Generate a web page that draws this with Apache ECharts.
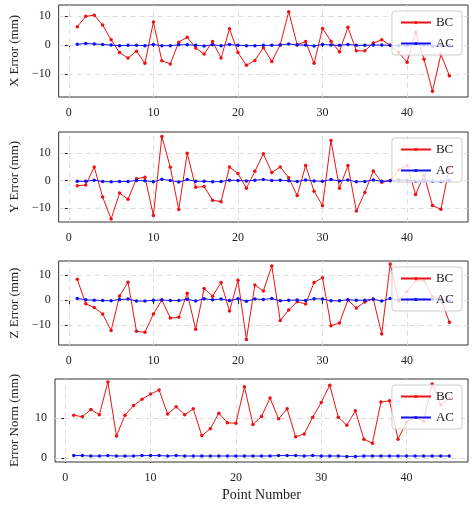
<!DOCTYPE html>
<html><head><meta charset="utf-8">
<script src="https://cdn.jsdelivr.net/npm/echarts@6/dist/echarts.min.js"></script>
<style>html,body{margin:0;padding:0;background:#fff}#main{width:474px;height:508px}</style>
</head><body><div id="main"></div>
<script>
var points = [];
for (var i = 1; i <= 45; i++) points.push(i);

var bcX = [6.3,9.9,10.3,6.9,1.8,-2.6,-4.5,-2.1,-6.3,7.9,-5.4,-6.5,1.0,2.7,-1.0,-3.1,1.2,-4.5,5.6,-2.6,-7.0,-5.3,-0.9,-5.7,0.1,11.5,0.1,1.2,-6.3,5.7,1.3,-2.3,6.1,-2.0,-2.0,0.7,1.8,-0.1,-2.6,-5.9,4.4,-4.9,-15.9,-3.2,-10.6];
var acX = [0.3,0.5,0.4,0.2,0.0,-0.2,-0.1,-0.1,-0.2,0.2,-0.2,-0.2,0.1,0.1,-0.1,-0.3,0.1,-0.2,0.2,-0.1,-0.2,-0.2,-0.1,-0.1,0.0,0.4,0.0,0.0,-0.3,0.2,0.0,-0.1,0.2,-0.1,-0.1,0.0,0.0,-0.1,-0.2,-0.2,0.2,-0.1,-0.4,-0.1,-0.3];
var bcY = [-1.8,-1.6,5.0,-5.9,-13.9,-4.5,-6.7,0.7,1.3,-12.6,16.1,4.9,-10.5,10.0,-2.4,-2.1,-7.1,-7.6,5.0,2.6,-2.7,3.4,9.8,3.0,5.0,1.1,-5.4,5.5,-3.8,-9.1,14.6,-2.7,5.5,-11.0,-4.3,3.5,-0.6,0.1,4.0,5.5,-5.0,2.1,-9.0,-10.4,4.8];
var acY = [-0.2,-0.2,0.2,-0.3,-0.4,-0.3,-0.3,0.1,0.0,-0.4,0.5,0.1,-0.5,0.4,-0.2,-0.2,-0.4,-0.3,0.2,0.1,-0.1,0.2,0.4,0.1,0.2,0.0,-0.3,0.3,-0.1,-0.2,0.4,-0.1,0.3,-0.4,-0.3,0.3,-0.2,0.0,0.3,0.2,-0.2,0.1,-0.2,-0.3,0.1];
var bcZ = [8.3,-1.5,-3.0,-5.6,-12.2,1.6,7.1,-12.5,-12.9,-5.6,0.0,-7.2,-6.9,2.7,-11.7,4.6,1.5,7.0,-4.4,7.9,-15.8,6.0,3.6,13.6,-8.2,-4.0,-0.7,-1.6,7.0,8.9,-10.3,-9.2,0.0,-3.2,-0.8,0.4,-13.6,14.4,-0.4,3.4,7.7,7.7,1.3,0.4,-8.9];
var acZ = [0.6,0.1,-0.1,-0.2,-0.3,0.2,0.4,-0.4,-0.4,-0.1,0.0,-0.2,-0.2,0.3,-0.4,0.5,0.1,0.4,-0.2,0.5,-0.5,0.4,0.2,0.6,-0.3,-0.1,0.0,-0.2,0.5,0.4,-0.3,-0.3,0.1,-0.1,-0.1,0.3,-0.4,0.6,0.0,0.3,0.4,0.4,0.2,0.1,-0.4];
var bcN = [10.7,10.3,12.1,10.8,19.0,5.5,10.7,13.1,14.7,16.0,17.0,11.0,12.8,10.8,12.3,5.6,7.3,11.2,8.8,8.7,17.8,8.4,10.4,15.0,9.8,12.3,5.3,6.0,10.2,13.9,18.2,10.2,8.2,11.8,4.7,3.7,14.0,14.3,4.7,9.0,10.2,9.2,18.5,13.3,14.8];
var acN = [0.6,0.6,0.5,0.5,0.6,0.5,0.5,0.5,0.6,0.6,0.6,0.5,0.6,0.5,0.5,0.5,0.5,0.5,0.5,0.5,0.5,0.5,0.5,0.5,0.6,0.6,0.6,0.5,0.6,0.5,0.5,0.5,0.4,0.4,0.5,0.5,0.5,0.5,0.5,0.5,0.5,0.5,0.5,0.5,0.5];

var xTicks = [0, 10, 20, 30, 40];
var panels = [
  {name: 'X Error (mm)', bc: bcX, ac: acX, min: -17.9, max: 13.8, ticks: [-10, 0, 10], top: 5, bottom: 97},
  {name: 'Y Error (mm)', bc: bcY, ac: acY, min: -15, max: 17.7, ticks: [-10, 0, 10], top: 132, bottom: 222},
  {name: 'Z Error (mm)', bc: bcZ, ac: acZ, min: -18, max: 15.6, ticks: [-10, 0, 10], top: 261, bottom: 345},
  {name: 'Error Norm (mm)', bc: bcN, ac: acN, min: -1, max: 19.75, ticks: [0, 10], top: 379, bottom: 462}
];

var font = 'Liberation Serif';
var grid = [], xAxis = [], yAxis = [], series = [], legend = [];

panels.forEach(function (p, k) {
  grid.push({left: 55, right: 6, top: p.top, height: p.bottom - p.top, show: true, borderColor: '#333', borderWidth: 1, backgroundColor: '#fff'});
  xAxis.push({
    type: 'value', gridIndex: k, min: -1.2, max: 47.2,
    name: k === 3 ? 'Point Number' : '', nameLocation: 'middle', nameGap: 26,
    nameTextStyle: {fontFamily: font, fontSize: 14, color: '#222'},
    axisLine: {show: false},
    axisTick: {show: true, length: 5, customValues: xTicks, lineStyle: {color: '#222'}},
    axisLabel: {show: true, customValues: xTicks, fontFamily: font, fontSize: 12, color: '#222', margin: 10},
    splitLine: {show: false}
  });
  yAxis.push({
    type: 'value', gridIndex: k, min: p.min, max: p.max,
    name: p.name, nameLocation: 'middle', nameGap: 34, nameRotate: 90,
    nameTextStyle: {fontFamily: font, fontSize: 13, color: '#222'},
    axisLine: {show: false},
    axisTick: {show: true, length: 4, customValues: p.ticks, lineStyle: {color: '#222'}},
    axisLabel: {customValues: p.ticks, fontFamily: font, fontSize: 12, color: '#222',
      formatter: function (v) { return v < 0 ? '\u2212' + (-v) : '' + v; }},
    splitLine: {show: false}
  });
  var mk = function (vals) { return vals.map(function (v, i) { return [points[i], v]; }); };
  var gridLines = xTicks.map(function (t) { return {xAxis: t}; })
    .concat(p.ticks.map(function (t) { return {yAxis: t}; }));
  series.push({name: 'BC', type: 'line', xAxisIndex: k, yAxisIndex: k, data: mk(p.bc),
    symbol: 'circle', symbolSize: 3.5, itemStyle: {color: '#ee1111'}, lineStyle: {color: '#ee1111', width: 1}, z: 3,
    markLine: {silent: true, symbol: 'none', label: {show: false}, z: 1,
      lineStyle: {color: '#ddd', type: [5, 4], width: 1}, data: gridLines}});
  series.push({name: 'AC', type: 'line', xAxisIndex: k, yAxisIndex: k, data: mk(p.ac),
    symbol: 'circle', symbolSize: 3.5, itemStyle: {color: '#1111ee'}, lineStyle: {color: '#1111ee', width: 1}, z: 3});
  legend.push({
    data: ['BC', 'AC'], orient: 'vertical', right: 12, top: p.top + 6,
    backgroundColor: 'rgba(255,255,255,0.8)', borderColor: '#ccc', borderWidth: 1, borderRadius: 3,
    padding: [5, 8], itemGap: 8, itemWidth: 30, itemHeight: 4,
    textStyle: {fontFamily: font, fontSize: 13, color: '#222'}, selectedMode: false, z: 10
  });
});

var chart = echarts.init(document.getElementById('main'));
chart.setOption({
  animation: false,
  grid: grid, xAxis: xAxis, yAxis: yAxis, series: series, legend: legend
});
</script>
</body></html>
